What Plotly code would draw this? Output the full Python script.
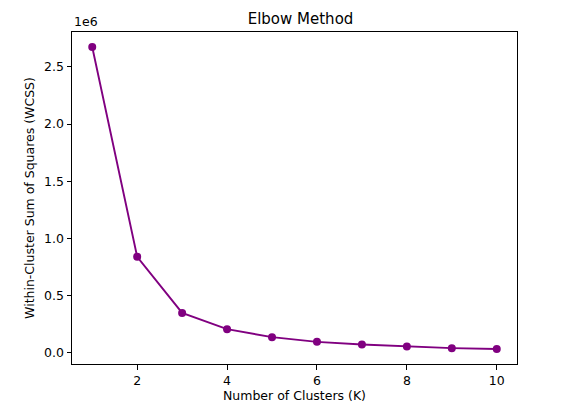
import plotly.graph_objects as go

k_values = [1, 2, 3, 4, 5, 6, 7, 8, 9, 10]
wcss = [2675000, 838000, 346000, 204000, 134000, 93000, 70000, 52000, 38000, 30000]
y_tick_vals = [0, 500000, 1000000, 1500000, 2000000, 2500000]
y_tick_text = ["0.0", "0.5", "1.0", "1.5", "2.0", "2.5"]
x_tick_vals = [2, 4, 6, 8, 10]

font = "DejaVu Sans, Arial, sans-serif"

fig = go.Figure()
fig.add_trace(go.Scatter(
    x=k_values, y=wcss, mode="lines+markers",
    line=dict(color="purple", width=1.9),
    marker=dict(color="purple", size=8),
    showlegend=False,
))

fig.update_layout(
    width=568, height=410,
    margin=dict(l=64, r=59, t=24, b=54),
    paper_bgcolor="white", plot_bgcolor="white",
    font=dict(family=font, size=12.5, color="black"),
    title=dict(text="Elbow Method", x=0.515, xanchor="center", y=0.973, yanchor="middle",
               font=dict(size=15, family=font, color="black")),
    xaxis=dict(
        range=[0.55, 10.45], tickvals=x_tick_vals, showgrid=False, zeroline=False,
        showline=True, linecolor="black", linewidth=1, mirror=True,
        ticks="outside", ticklen=4.5, tickcolor="black",
        title=dict(text="Number of Clusters (K)", standoff=4, font=dict(size=12.5)),
    ),
    yaxis=dict(
        range=[-101000, 2806000], tickvals=y_tick_vals, ticktext=y_tick_text,
        showgrid=False, zeroline=False,
        showline=True, linecolor="black", linewidth=1, mirror=True,
        ticks="outside", ticklen=4.5, tickcolor="black",
        title=dict(text="Within-Cluster Sum of Squares (WCSS)", standoff=6, font=dict(size=12.5)),
    ),
    annotations=[dict(text="1e6", xref="paper", yref="paper", x=0, y=1.0,
                      xanchor="left", yanchor="bottom", showarrow=False,
                      font=dict(size=12.5, family=font), yshift=1)],
)

fig.write_html("out.html")
